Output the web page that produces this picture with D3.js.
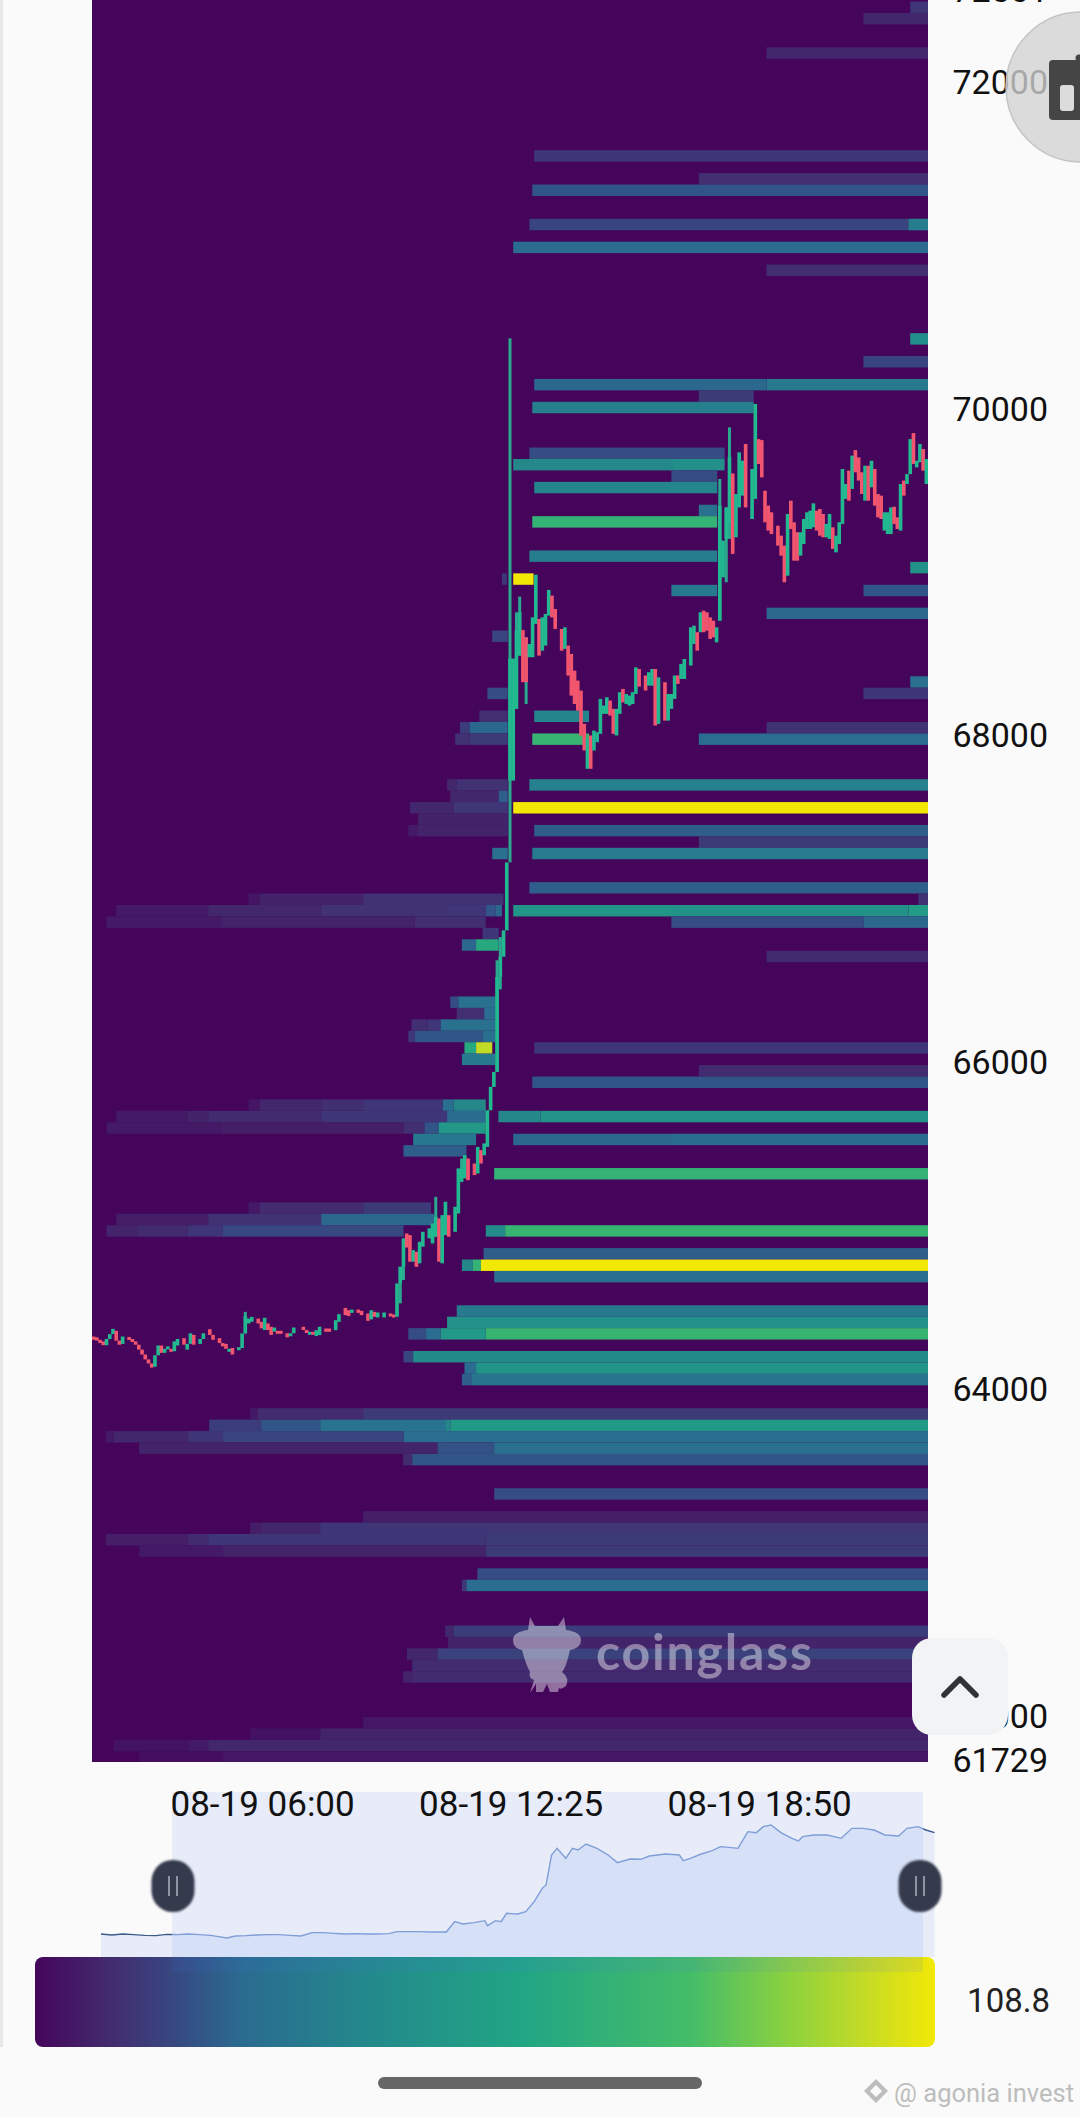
<!DOCTYPE html>
<html>
<head>
<meta charset="utf-8">
<style>
  html, body { margin: 0; padding: 0; background: #fafafa; }
  svg { display: block; }
</style>
<script src="https://cdn.jsdelivr.net/npm/d3@7"></script>
</head>
<body>
<div id="chart"></div>
<script>
var priceTicks = [72561, 72000, 70000, 68000, 66000, 64000, 62000, 61729];
var timeTickBars = [52.7, 129.7, 206.7];
var timeTickLabels = ["08-19 06:00", "08-19 12:25", "08-19 18:50"];
var barCount = 259;
var rowStep = 70;
var colorMax = 108.8;

// colour bar, value -> colour
var colorStopValues = [0, 8.7, 17.4, 25, 41.3, 58.8, 79.4, 91.4, 101.2, 108.8];
var colorStopColors = ["#45055b", "#432a6e", "#364a82", "#2a6b90", "#238b8b", "#21a584", "#45bd68", "#8ed23e", "#c9dc22", "#f2e806"];

// 5 minute candles
var candleBars = [
  0, 1, 2, 3, 4, 5, 6, 7, 8, 9,
  11, 12, 13, 14, 15, 16, 17, 18, 19, 20,
  21, 22, 23, 24, 25, 26, 28, 29, 30, 31,
  33, 34, 36, 37, 39, 40, 41, 42, 43, 45,
  46, 47, 48, 49, 51, 52, 53, 54, 55, 56,
  57, 58, 60, 61, 62, 65, 66, 67, 68, 69,
  70, 72, 73, 75, 76, 78, 79, 80, 82, 83,
  85, 86, 87, 88, 90, 92, 93, 94, 95, 96,
  97, 98, 99, 100, 101, 102, 104, 105, 106, 107,
  108, 109, 110, 112, 113, 114, 115, 116, 118, 119,
  120, 121, 122, 123, 124, 125, 126, 127, 128, 129,
  130, 131, 132, 133, 134, 135, 136, 137, 138, 139, 140,
  141, 142, 143, 145, 146, 147, 148, 149, 150, 151,
  152, 153, 154, 155, 156, 157, 158, 159, 160, 161,
  162, 163, 164, 165, 166, 167, 168, 169, 171, 172,
  173, 174, 175, 177, 178, 179, 180, 181, 182, 183,
  185, 186, 187, 188, 189, 190, 191, 192, 193, 194,
  195, 196, 197, 198, 199, 200, 201, 202, 204, 205,
  206, 207, 208, 209, 210, 212, 213, 214, 215, 216,
  217, 218, 219, 220, 221, 222, 223, 224, 225, 226,
  227, 228, 229, 230, 231, 232, 233, 234, 235, 236,
  237, 238, 239, 240, 241, 242, 243, 244, 245, 246,
  247, 248, 249, 250, 251, 252, 253, 254, 255, 256,
  257, 258
];
var candleOpens = [
  64315, 64310, 64295, 64285, 64262, 64300, 64330, 64350, 64290, 64270,
  64312, 64300, 64285, 64265, 64235, 64205, 64175, 64150, 64130, 64200,
  64260, 64215, 64240, 64240, 64225, 64260, 64305, 64235, 64270, 64325,
  64270, 64300, 64360, 64325, 64305, 64275, 64270, 64225, 64245, 64235,
  64245, 64334, 64395, 64405, 64425, 64405, 64355, 64395, 64375, 64345,
  64350, 64350, 64335, 64318, 64335, 64375, 64355, 64328, 64344, 64318,
  64324, 64364, 64364, 64354, 64405, 64490, 64476, 64460, 64480, 64472,
  64456, 64420, 64466, 64432, 64432, 64456, 64450, 64436, 64640, 64742,
  64946, 64936, 64773, 64834, 64763, 64865, 64916, 64885, 64926, 65038,
  64763, 64936, 65058, 64956, 65068, 65262, 65283, 65405, 65374, 65313,
  65456, 65425, 65476, 65700, 65843, 65935, 66516, 66640, 66801, 67718,
  67718, 68157, 68483, 68640, 68595, 68473, 68473, 68677, 68707, 68513, 68544,
  68728, 68850, 68768, 68646, 68524, 68544, 68493, 68391, 68330, 68269,
  68065, 67790, 67994, 67902, 67953, 68004, 68126, 68126, 68208, 68157,
  67994, 68126, 68279, 68187, 68177, 68187, 68248, 68401, 68361, 68299,
  68299, 68401, 68065, 68320, 68085, 68157, 68218, 68361, 68340, 68340,
  68422, 68554, 68626, 68626, 68758, 68748, 68717, 68697, 68564, 68697,
  68962, 69197, 69300, 69598, 69207, 69390, 69462, 69778, 69319, 69442,
  69808, 69802, 69492, 69401, 69360, 69278, 69217, 69156, 68972, 69431,
  69299, 69238, 69095, 69166, 69258, 69258, 69268, 69370, 69380, 69350,
  69207, 69197, 69268, 69115, 69166, 69289, 69442, 69615, 69503, 69741,
  69696, 69605, 69431, 69645, 69513, 69625, 69472, 69462, 69248, 69227,
  69227, 69394, 69329, 69248, 69554, 69533, 69594, 69845, 69635, 69666,
  69747, 69533
];
var candleCloses = [
  64295, 64290, 64275, 64262, 64300, 64330, 64362, 64290, 64265, 64315,
  64300, 64285, 64265, 64235, 64205, 64175, 64150, 64125, 64200, 64260,
  64215, 64240, 64255, 64225, 64285, 64300, 64265, 64270, 64335, 64265,
  64300, 64335, 64325, 64295, 64275, 64255, 64240, 64240, 64205, 64250,
  64334, 64440, 64425, 64435, 64395, 64365, 64430, 64355, 64325, 64370,
  64335, 64335, 64310, 64335, 64370, 64355, 64338, 64344, 64334, 64354,
  64375, 64344, 64344, 64415, 64452, 64446, 64440, 64480, 64460, 64446,
  64411, 64476, 64436, 64462, 64462, 64440, 64436, 64640, 64742, 64915,
  64860, 64773, 64844, 64742, 64895, 64956, 64977, 65007, 65048, 64773,
  65058, 65140, 64926, 65109, 65344, 65344, 65425, 65272, 65303, 65476,
  65374, 65497, 65700, 65843, 65935, 66516, 66640, 66801, 67217, 68465,
  68465, 68636, 68748, 68320, 68320, 68554, 68717, 68978, 68483, 68717, 68738,
  68885, 68717, 68646, 68513, 68656, 68361, 68238, 68187, 68146, 67993,
  67902, 67973, 67790, 68024, 68014, 68218, 68177, 68228, 68116, 68004,
  68157, 68259, 68197, 68248, 68238, 68259, 68411, 68293, 68269, 68381,
  68401, 68055, 68350, 68085, 68248, 68248, 68361, 68310, 68432, 68462,
  68656, 68666, 68513, 68748, 68626, 68636, 68585, 68595, 68656, 69400,
  69187, 69390, 69700, 69105, 69472, 69727, 69676, 69390, 69625, 70023,
  69656, 69574, 69299, 69248, 69227, 69156, 69095, 68932, 69350, 69258,
  69064, 69064, 69238, 69319, 69360, 69370, 69415, 69248, 69217, 69207,
  69289, 69350, 69136, 69217, 69299, 69625, 69533, 69431, 69707, 69605,
  69554, 69472, 69645, 69431, 69676, 69401, 69329, 69319, 69360, 69360,
  69390, 69289, 69258, 69533, 69462, 69594, 69808, 69656, 69676, 69778,
  69615, 69686
];
var wickBars = [47, 95, 96, 106, 114, 125, 126, 129, 131, 132, 134, 194, 196, 197];
var wickHighs = [64466, 64742, 64915, 65170, 65405, 66618, 66760, 70425, 68748, 68844, 68595, 69564, 69390, 69880];
var wickLows = [64334, 64518, 64661, 64926, 65262, 65935, 66440, 67217, 68157, 68483, 68187, 68697, 68932, 69197];

// liquidation cells: price row, from bar, to bar, value
var liqBands = [
  [72460, 253.5, 259, 12], [72390, 239, 259, 8], [72180, 209, 259, 8],
  [71550, 137, 259, 12], [71410, 188, 259, 10], [71340, 136.4, 259, 20],
  [71130, 135.5, 259, 16], [71130, 253, 259, 34], [70990, 130.5, 259, 26], [70850, 209, 259, 10],
  [70430, 253.5, 259, 44], [70290, 239, 259, 16],
  [70150, 137, 209, 24], [70150, 209, 259, 32], [70080, 188, 205, 13], [70010, 136.4, 205, 35],
  [69730, 135.5, 196, 18], [69660, 130.5, 180, 40], [69660, 180, 196, 44], [69590, 179.5, 193.7, 18],
  [69520, 137, 193.7, 38], [69380, 188, 193.7, 28], [69310, 136.4, 193.7, 70], [69100, 135.5, 193.7, 34],
  [69030, 253.5, 259, 46], [68960, 127, 128.5, 12], [68960, 130.5, 136.8, 108.8],
  [68890, 179.5, 193.7, 32], [68890, 239, 259, 20], [68750, 209, 259, 24], [68610, 124, 128.8, 16],
  [68330, 253.5, 259, 28], [68260, 239, 259, 12], [68260, 122.5, 128.8, 18],
  [68120, 137, 154, 38], [68120, 120, 128.8, 10],
  [68050, 209, 259, 11], [68050, 114, 117, 14], [68050, 117, 128.8, 24],
  [67980, 136.4, 154, 72], [67980, 188, 259, 26], [67980, 112.5, 117, 11], [67980, 117, 128.8, 13],
  [67700, 135.5, 259, 36], [67700, 110, 113, 8], [67700, 113, 128.8, 11],
  [67630, 111, 126, 8], [67630, 126, 128.8, 22],
  [67560, 130.5, 259, 108.8], [67560, 98.5, 112, 8], [67560, 112, 128.8, 12],
  [67490, 101, 128.8, 7],
  [67420, 137, 259, 22], [67420, 98, 101, 5], [67420, 101, 128.8, 7],
  [67350, 188, 259, 13], [67280, 136.4, 259, 33], [67280, 124, 128.8, 28],
  [67070, 135.5, 259, 22],
  [67000, 48.5, 52, 4], [67000, 52, 84, 7], [67000, 84, 127.5, 11], [67000, 256, 259, 11],
  [66930, 7.5, 36, 5], [66930, 36, 71, 8], [66930, 71, 110, 11], [66930, 110, 122, 12], [66930, 122, 125, 20], [66930, 125, 127, 24],
  [66930, 130.5, 180, 48], [66930, 180, 253, 46], [66930, 253, 259, 52],
  [66860, 4.5, 40, 5], [66860, 40, 100, 7], [66860, 100, 122, 10], [66860, 179.5, 239, 18], [66860, 239, 259, 24],
  [66790, 121, 126, 12], [66720, 114.6, 119, 24], [66720, 119, 126, 62], [66650, 209, 259, 9],
  [66370, 111, 113.5, 18], [66370, 113.5, 125, 28], [66300, 113, 121.5, 10], [66300, 121.5, 125, 26],
  [66230, 99, 104, 10], [66230, 104, 108, 12], [66230, 108, 125, 28],
  [66160, 98, 100, 12], [66160, 100, 121, 20], [66160, 121, 125, 27],
  [66090, 137, 259, 12], [66090, 115.4, 119, 62], [66090, 119, 124, 100],
  [66020, 114.6, 125, 32], [65950, 188, 259, 9], [65880, 136.4, 259, 20],
  [65740, 48.5, 52, 4], [65740, 52, 71, 8], [65740, 71, 84, 10], [65740, 84, 108.7, 12], [65740, 108.7, 112, 27], [65740, 112, 122, 40],
  [65670, 7.5, 29.6, 5], [65670, 29.6, 36, 7], [65670, 36, 71, 9], [65670, 71, 110, 12], [65670, 110, 122, 25], [65670, 125.9, 139, 40], [65670, 139, 259, 48],
  [65600, 4.5, 40, 5], [65600, 40, 96.5, 6], [65600, 96.5, 103, 10], [65600, 103, 107.5, 20], [65600, 107.5, 122, 50],
  [65530, 99.5, 119, 31], [65530, 130.5, 180, 24], [65530, 180, 259, 25],
  [65460, 96.5, 116, 22], [65320, 124.6, 259, 70],
  [65110, 48.5, 52, 5], [65110, 52, 84, 9], [65110, 84, 105, 13],
  [65040, 7.5, 36, 6], [65040, 36, 71, 11], [65040, 71, 106, 24],
  [64970, 4.5, 14, 7], [64970, 14, 29.6, 9], [64970, 29.6, 40.5, 12], [64970, 40.5, 96.5, 17], [64970, 122, 128, 42], [64970, 128, 259, 72],
  [64830, 121.3, 259, 22],
  [64760, 114.6, 118, 40], [64760, 118, 120.5, 70], [64760, 120.5, 259, 108.8],
  [64690, 124.6, 259, 27], [64480, 113, 259, 32], [64410, 110, 259, 45],
  [64340, 98, 103.5, 18], [64340, 103.5, 108, 26], [64340, 108, 122, 50], [64340, 122, 259, 72],
  [64200, 96.5, 99.5, 16], [64200, 99.5, 259, 42],
  [64130, 115.4, 119, 26], [64130, 119, 259, 48],
  [64060, 114.6, 117.5, 22], [64060, 117.5, 259, 30],
  [63850, 49, 51.4, 5], [63850, 51.4, 84, 9], [63850, 84, 259, 13],
  [63780, 36.3, 52.4, 14], [63780, 52.4, 70.7, 20], [63780, 70.7, 109.4, 29], [63780, 109.4, 111, 38], [63780, 111, 259, 51],
  [63710, 4.3, 6.8, 5], [63710, 6.8, 29.8, 8], [63710, 29.8, 40.6, 12], [63710, 40.6, 96.6, 16], [63710, 96.6, 110.3, 26], [63710, 110.3, 259, 27],
  [63640, 14.6, 106.9, 7], [63640, 107, 124.6, 19], [63640, 124.6, 259, 28],
  [63570, 96.4, 99.2, 9], [63570, 99.2, 259, 20],
  [63360, 124.6, 259, 18],
  [63220, 84, 259, 6],
  [63150, 49, 52.4, 6], [63150, 52.4, 70.7, 8], [63150, 70.7, 259, 12],
  [63080, 4.3, 29.8, 6], [63080, 29.8, 36, 9], [63080, 36, 122, 12], [63080, 122, 259, 13],
  [63010, 14.6, 40.6, 5], [63010, 40.6, 122, 7], [63010, 122, 259, 13],
  [62870, 119.4, 259, 18], [62800, 114.6, 116, 12], [62800, 116, 259, 26],
  [62520, 109.4, 112, 8], [62520, 112, 259, 14], [62450, 110.3, 259, 7],
  [62380, 97.6, 107, 8], [62380, 107, 259, 15], [62310, 99.2, 259, 9],
  [62240, 96.4, 99.2, 7], [62240, 99.2, 259, 9],
  [61960, 84, 259, 4], [61890, 49, 70.7, 3], [61890, 70.7, 259, 7],
  [61820, 6.8, 29.8, 3], [61820, 29.8, 36, 5], [61820, 36, 259, 8],
  [61750, 14.6, 40.6, 2], [61750, 40.6, 259, 4]
];

// overview line under the chart
var overviewBars = [
  -24.5, -20.7, -17, -13.2, -9.4, -5.6, -1.8, 2, 5.7, 9.5, 13.3, 16.1, 19, 21.8, 25.6, 29.4, 33.2, 36.9, 40.7, 44.5,
  48.3, 52.1, 55.9, 59.6, 63.4, 67.2, 71, 74.8, 77.6, 81.4, 85.2, 89, 94.6, 97.5, 100.3, 104.1, 107.9, 108.8, 111.6, 113.5,
  115.4, 119.2, 122, 124.9, 127.7, 129, 130.9, 132.8, 135.8, 138.1, 140, 142.8, 146.6, 150.4, 153.6, 158, 161.7, 164.6, 170.2, 175,
  176.3, 178.8, 182.5, 186.3, 189.2, 192.9, 195.2, 198.6, 201.5, 203.9, 206.6, 210, 213.8, 216, 217.5, 221.3, 226, 230.8, 234.5, 238.3,
  242.1, 245.9, 250.6, 253.5, 257.3, 260, 263
];
var overviewPrices = [
  64300, 64248, 64300, 64266, 64231, 64214, 64283, 64266, 64300, 64266, 64231, 64162, 64093, 64197, 64214, 64248, 64266, 64266, 64231, 64197,
  64370, 64370, 64335, 64300, 64318, 64300, 64300, 64318, 64422, 64422, 64422, 64404, 64404, 64940, 64820, 64889, 64992, 64733, 64992, 64940,
  65373, 65338, 65460, 65978, 66670, 66843, 68400, 68746, 68228, 68746, 68660, 68971, 68746, 68400, 68003, 68193, 68176, 68349, 68452, 68400,
  68106, 68228, 68452, 68625, 68833, 68781, 68746, 69612, 69560, 69871, 69957, 69560, 69265, 69127, 69352, 69438, 69438, 69265, 69784, 69784,
  69698, 69438, 69387, 69784, 69871, 69698, 69560
];

(function() {
  "use strict";

  var width = 1080;
  var height = 2118;
  var plotLeft = 92, plotRight = 928, plotBottom = 1762;

  var svg = d3.select("#chart").append("svg")
    .attr("width", width)
    .attr("height", height)
    .style("font-family", "Roboto, sans-serif");

  var defs = svg.append("defs");

  var x = d3.scaleLinear().domain([0, barCount]).range([plotLeft, plotRight]);
  var y = d3.scaleLinear().domain([64000, 72000]).range([1388, 81]);
  var color = d3.scaleLinear().domain(colorStopValues).range(colorStopColors);
  var rowHeight = y(0) - y(rowStep);
  // cells sit a touch below their price in the original
  var rowShift = 1.4;

  svg.append("rect").attr("width", width).attr("height", height).attr("fill", "#fafafa");
  svg.append("rect").attr("width", 3).attr("height", 2047).attr("fill", "#e8e8e8");

  defs.append("clipPath").attr("id", "plot-clip").append("rect")
    .attr("x", plotLeft).attr("y", 0)
    .attr("width", plotRight - plotLeft).attr("height", plotBottom);

  var soft = defs.append("filter").attr("id", "soft");
  soft.append("feGaussianBlur").attr("stdDeviation", 0.9);

  var plot = svg.append("g").attr("clip-path", "url(#plot-clip)");

  plot.append("rect")
    .attr("x", plotLeft).attr("y", 0)
    .attr("width", plotRight - plotLeft).attr("height", plotBottom)
    .attr("fill", color(0));

  /* ------- HEATMAP ------- */
  plot.append("g").selectAll("rect")
    .data(liqBands)
    .enter()
    .append("rect")
    .attr("x", function(d) { return x(d[1]); })
    .attr("width", function(d) { return x(d[2]) - x(d[1]); })
    .attr("y", function(d) { return y(d[0]) - rowHeight / 2 + rowShift; })
    .attr("height", rowHeight)
    .attr("fill", function(d) { return color(d[3]); });

  /* ------- CANDLES ------- */
  var candles = candleBars.map(function(bar, i) {
    return { bar: bar, open: candleOpens[i], close: candleCloses[i] };
  });

  function candleColor(d) {
    return d.close >= d.open ? "#22b890" : "#f2566e";
  }

  var barWidth = x(1) - x(0);

  plot.append("g").selectAll("rect")
    .data(wickBars.map(function(bar, i) {
      return { bar: bar, high: wickHighs[i], low: wickLows[i] };
    }))
    .enter()
    .append("rect")
    .attr("x", function(d) { return x(d.bar + 0.5) - 1.5; })
    .attr("width", 3)
    .attr("y", function(d) { return y(d.high); })
    .attr("height", function(d) { return y(d.low) - y(d.high); })
    .attr("fill", "#2aa98f");

  plot.append("g").selectAll("rect")
    .data(candles)
    .enter()
    .append("rect")
    .attr("x", function(d) { return x(d.bar) - 0.2; })
    .attr("width", barWidth + 0.4)
    .attr("y", function(d) { return y(Math.max(d.open, d.close)); })
    .attr("height", function(d) { return Math.max(3, Math.abs(y(d.open) - y(d.close))); })
    .attr("fill", candleColor);

  /* ------- COINGLASS MARK ------- */
  var mark = plot.append("g").attr("fill", "#fff").attr("opacity", 0.42);
  mark.append("path")
    .attr("d", "M530,1617 L535,1626 L558,1626 L564,1617 L566,1630 Q581,1632 581,1640 Q581,1648 570,1650 Q566,1668 562,1672 Q570,1678 566,1686 Q561,1690 559,1688 L558,1692 L550,1692 L547,1684 L543,1692 L536,1692 L536,1684 L530,1693 L534,1680 Q528,1678 530,1672 Q526,1665 522,1650 Q513,1648 513,1640 Q513,1632 528,1630 Z");
  mark.append("text")
    .attr("x", 596).attr("y", 1670)
    .attr("font-family", "Lato, sans-serif")
    .attr("font-weight", 700)
    .attr("font-size", 50)
    .attr("textLength", 216)
    .text("coinglass");

  /* ------- AXES ------- */
  var yAxis = svg.append("g")
    .attr("transform", "translate(" + plotRight + ",0)")
    .call(d3.axisRight(y).tickValues(priceTicks).tickSize(0).tickFormat(d3.format("d")));
  yAxis.select(".domain").remove();
  yAxis.selectAll("text")
    .attr("x", 120)
    .attr("dy", "0.36em")
    .attr("text-anchor", "end")
    .attr("font-size", 34)
    .attr("font-family", "Roboto, sans-serif")
    .attr("fill", "#111");

  /* ------- OVERVIEW ------- */
  var overX = d3.scaleLinear().domain([0, barCount]).range([172, 923]);
  var overY = d3.scaleLinear().domain([64300, 69957]).range([1934, 1825]);
  var overArea = d3.area()
    .x(function(d) { return overX(d[0]); })
    .y0(1957)
    .y1(function(d) { return overY(d[1]); });
  var overLine = d3.line()
    .x(function(d) { return overX(d[0]); })
    .y(function(d) { return overY(d[1]); });
  var overData = overviewBars.map(function(b, i) { return [b, overviewPrices[i]]; });

  svg.append("path")
    .attr("d", overArea(overData))
    .attr("fill", "rgb(65,120,235)")
    .attr("fill-opacity", 0.1);

  defs.append("clipPath").attr("id", "window-clip").append("rect")
    .attr("x", overX(0)).attr("y", 1780).attr("width", overX(barCount) - overX(0)).attr("height", 190);
  defs.append("clipPath").attr("id", "outside-clip").selectAll("rect")
    .data([[90, overX(0)], [overX(barCount), 950]])
    .enter()
    .append("rect")
    .attr("x", function(d) { return d[0]; })
    .attr("y", 1780)
    .attr("width", function(d) { return d[1] - d[0]; })
    .attr("height", 190);

  svg.append("path")
    .attr("d", overLine(overData))
    .attr("fill", "none").attr("stroke", "#3d5c8c").attr("stroke-width", 1.4)
    .attr("clip-path", "url(#outside-clip)");
  svg.append("path")
    .attr("d", overLine(overData))
    .attr("fill", "none").attr("stroke", "#86a3d6").attr("stroke-width", 1.4)
    .attr("clip-path", "url(#window-clip)");

  /* ------- COLOUR BAR ------- */
  var gradient = defs.append("linearGradient").attr("id", "bar-gradient");
  gradient.selectAll("stop")
    .data(colorStopValues)
    .enter()
    .append("stop")
    .attr("offset", function(d) { return d / colorMax; })
    .attr("stop-color", function(d) { return color(d); });

  svg.append("rect")
    .attr("x", 35).attr("y", 1957).attr("width", 900).attr("height", 90)
    .attr("rx", 8)
    .attr("fill", "url(#bar-gradient)");

  svg.append("text")
    .attr("x", 1050).attr("y", 2000).attr("dy", "0.36em")
    .attr("text-anchor", "end")
    .attr("font-size", 33)
    .attr("fill", "#222")
    .text(String(colorMax));

  // selected window sits over the bar
  svg.append("rect")
    .attr("x", overX(0)).attr("y", 1792)
    .attr("width", overX(barCount) - overX(0)).attr("height", 180)
    .attr("fill", "rgb(65,120,235)")
    .attr("fill-opacity", 0.1);

  var xAxis = svg.append("g")
    .attr("transform", "translate(0,1786)")
    .call(d3.axisBottom(x).tickValues(timeTickBars).tickSize(0).tickFormat(function(d, i) { return timeTickLabels[i]; }));
  xAxis.select(".domain").remove();
  xAxis.selectAll("text")
    .attr("y", 0)
    .attr("dy", "0.86em")
    .attr("font-size", 35)
    .attr("font-family", "Roboto, sans-serif")
    .attr("fill", "#111");

  var handles = svg.append("g").selectAll("g")
    .data([0, barCount])
    .enter()
    .append("g")
    .attr("transform", function(d) { return "translate(" + (overX(d) + (d ? -3 : 1)) + ",1886)"; });
  handles.append("rect")
    .attr("x", -21.5).attr("y", -26).attr("width", 43).attr("height", 52)
    .attr("rx", 21).attr("fill", "#343a4e")
    .attr("filter", "url(#soft)");
  handles.selectAll("line")
    .data([-4, 4])
    .enter()
    .append("line")
    .attr("x1", function(d) { return d; }).attr("x2", function(d) { return d; })
    .attr("y1", -10).attr("y2", 10)
    .attr("stroke", "#8f94a3").attr("stroke-width", 2);

  /* ------- PHONE CHROME ------- */
  svg.append("rect")
    .attr("x", 912).attr("y", 1638).attr("width", 96).attr("height", 97)
    .attr("rx", 20).attr("fill", "#f1f3f5");
  svg.append("path")
    .attr("d", "M944,1695 L960,1679 L976,1695")
    .attr("fill", "none").attr("stroke", "#2f3338").attr("stroke-width", 5.5)
    .attr("stroke-linecap", "round").attr("stroke-linejoin", "round");

  svg.append("circle")
    .attr("cx", 1081).attr("cy", 87).attr("r", 75)
    .attr("fill", "#d2d2d2").attr("fill-opacity", 0.78)
    .attr("stroke", "#c4c4c4").attr("stroke-width", 1.5);
  svg.append("rect")
    .attr("x", 1049).attr("y", 60).attr("width", 40).attr("height", 60)
    .attr("rx", 4).attr("fill", "#454545");
  svg.append("rect")
    .attr("x", 1060).attr("y", 85).attr("width", 14).attr("height", 26)
    .attr("rx", 3).attr("fill", "#dcdcdc");
  svg.append("circle")
    .attr("cx", 1079).attr("cy", 58).attr("r", 3.5)
    .attr("fill", "#454545");

  svg.append("rect")
    .attr("x", 378).attr("y", 2077).attr("width", 324).attr("height", 12)
    .attr("rx", 6).attr("fill", "#666");

  var tag = svg.append("g").attr("fill", "#bdbdbd");
  tag.append("path")
    .attr("d", "M876,2079 L888,2091 L876,2103 L864,2091 Z M876,2085 L870,2091 L876,2097 L882,2091 Z")
    .attr("fill-rule", "evenodd");
  tag.append("text")
    .attr("x", 1074).attr("y", 2093).attr("dy", "0.36em")
    .attr("text-anchor", "end")
    .attr("font-size", 25.5)
    .text("@ agonia invest");
})();
</script>
</body>
</html>
